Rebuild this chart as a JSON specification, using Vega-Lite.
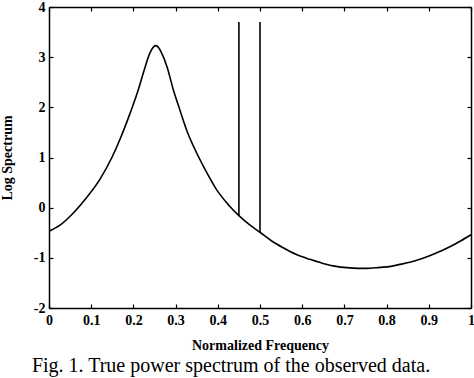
{
  "$schema": "https://vega.github.io/schema/vega-lite/v6.json",
  "width": 422,
  "height": 301,
  "autosize": {"type": "none"},
  "padding": {"left": 49, "top": 7, "right": 3, "bottom": 70},
  "background": "white",
  "config": {
    "view": {"stroke": null},
    "axis": {
      "domainColor": "black",
      "domainWidth": 1.5,
      "tickColor": "black",
      "tickWidth": 1.2,
      "tickSize": -4,
      "grid": false,
      "labelFont": "Liberation Serif",
      "labelFontWeight": "bold",
      "labelFontSize": 14,
      "labelColor": "black",
      "titleFont": "Liberation Serif",
      "titleFontWeight": "bold",
      "titleFontSize": 14,
      "titleColor": "black"
    },
    "title": {"font": "Liberation Serif", "fontSize": 20, "fontWeight": "normal", "color": "black"}
  },
  "title": {"text": "Fig. 1. True power spectrum of the observed data.", "orient": "bottom", "offset": 4, "dx": -29},
  "datasets": {
    "curve": [
      {"f": 0, "s": -0.47},
      {"f": 0.026, "s": -0.35},
      {"f": 0.05, "s": -0.17},
      {"f": 0.085, "s": 0.16},
      {"f": 0.121, "s": 0.57},
      {"f": 0.149, "s": 1.0},
      {"f": 0.17, "s": 1.4},
      {"f": 0.192, "s": 1.88},
      {"f": 0.212, "s": 2.36},
      {"f": 0.224, "s": 2.7},
      {"f": 0.239, "s": 3.08},
      {"f": 0.246, "s": 3.19},
      {"f": 0.253, "s": 3.23},
      {"f": 0.26, "s": 3.19},
      {"f": 0.266, "s": 3.1},
      {"f": 0.28, "s": 2.8},
      {"f": 0.2946, "s": 2.35},
      {"f": 0.31, "s": 1.95},
      {"f": 0.326, "s": 1.55},
      {"f": 0.346, "s": 1.16},
      {"f": 0.37, "s": 0.76},
      {"f": 0.397, "s": 0.36},
      {"f": 0.425, "s": 0.06},
      {"f": 0.45, "s": -0.16},
      {"f": 0.475, "s": -0.34},
      {"f": 0.5, "s": -0.49},
      {"f": 0.527, "s": -0.66},
      {"f": 0.555, "s": -0.8},
      {"f": 0.585, "s": -0.93},
      {"f": 0.618, "s": -1.03},
      {"f": 0.645, "s": -1.1},
      {"f": 0.673, "s": -1.16},
      {"f": 0.713, "s": -1.2},
      {"f": 0.75, "s": -1.21},
      {"f": 0.784, "s": -1.19},
      {"f": 0.81, "s": -1.17},
      {"f": 0.832, "s": -1.13},
      {"f": 0.855, "s": -1.09},
      {"f": 0.879, "s": -1.03},
      {"f": 0.905, "s": -0.95},
      {"f": 0.927, "s": -0.87},
      {"f": 0.95, "s": -0.78},
      {"f": 0.974, "s": -0.67},
      {"f": 1.0, "s": -0.54}
    ],
    "spikes": [
      {"f": 0.45, "lo": -0.16, "hi": 3.7},
      {"f": 0.5, "lo": -0.49, "hi": 3.7}
    ]
  },
  "layer": [
    {
      "data": {"name": "curve"},
      "mark": {"type": "line", "color": "black", "strokeWidth": 1.6, "interpolate": "monotone", "clip": true},
      "encoding": {
        "x": {"field": "f", "type": "quantitative", "scale": {"domain": [0, 1], "nice": false},
          "axis": {"orient": "bottom", "values": [0, 0.1, 0.2, 0.3, 0.4, 0.5, 0.6, 0.7, 0.8, 0.9, 1], "format": ".1~f", "labelPadding": 9, "labelFlush": false, "title": "Normalized Frequency", "titleY": 37, "titleBaseline": "middle"}},
        "y": {"field": "s", "type": "quantitative", "scale": {"domain": [-2, 4], "nice": false},
          "axis": {"orient": "left", "values": [-2, -1, 0, 1, 2, 3, 4], "labelExpr": "datum.value + ''", "labelPadding": 8, "labelFlush": false, "title": "Log Spectrum", "titleX": -42, "titleBaseline": "middle", "titleAngle": -90}}
      }
    },
    {
      "data": {"name": "spikes"},
      "mark": {"type": "rule", "color": "black", "strokeWidth": 1.6},
      "encoding": {
        "x": {"field": "f", "type": "quantitative", "axis": {"orient": "top", "values": [0, 0.1, 0.2, 0.3, 0.4, 0.5, 0.6, 0.7, 0.8, 0.9, 1], "labels": false, "title": null}},
        "y": {"field": "lo", "type": "quantitative", "axis": {"orient": "right", "values": [-2, -1, 0, 1, 2, 3, 4], "labels": false, "title": null}},
        "y2": {"field": "hi"}
      }
    }
  ],
  "resolve": {"axis": {"x": "independent", "y": "independent"}}
}
